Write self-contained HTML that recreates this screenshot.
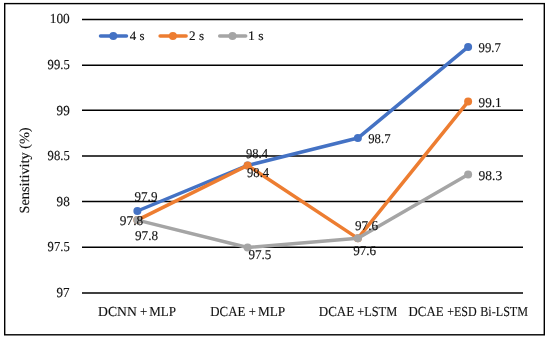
<!DOCTYPE html>
<html><head><meta charset="utf-8"><title>Sensitivity chart</title>
<style>
html,body{margin:0;padding:0;background:#fff;}
body{width:550px;height:340px;overflow:hidden;}
svg{display:block;}
text{font-family:"Liberation Serif",serif;fill:#111;stroke:#111;stroke-width:0.12px;font-size:14.0px;text-rendering:geometricPrecision;}
</style></head><body>
<svg width="550" height="340" viewBox="0 0 550 340">
<rect x="0" y="0" width="550" height="340" fill="#fff"/>
<rect x="4.7" y="3.6" width="539.6" height="331.2" fill="none" stroke="#000" stroke-width="1.4"/>

<line x1="82.0" y1="19.45" x2="523.0" y2="19.45" stroke="#000" stroke-width="1.38"/>
<line x1="82.0" y1="65.30" x2="523.0" y2="65.30" stroke="#000" stroke-width="1.38"/>
<line x1="82.0" y1="110.30" x2="523.0" y2="110.30" stroke="#000" stroke-width="1.38"/>
<line x1="82.0" y1="156.00" x2="523.0" y2="156.00" stroke="#000" stroke-width="1.38"/>
<line x1="82.0" y1="201.55" x2="523.0" y2="201.55" stroke="#000" stroke-width="1.38"/>
<line x1="82.0" y1="247.30" x2="523.0" y2="247.30" stroke="#000" stroke-width="1.38"/>
<line x1="82.0" y1="293.00" x2="523.0" y2="293.00" stroke="#000" stroke-width="1.38"/>
<text x="49.73" y="23.45" style="font-size:13.8px" textLength="20.03" lengthAdjust="spacingAndGlyphs">100</text>
<text x="47.59" y="69.03" style="font-size:13.8px" textLength="22.15" lengthAdjust="spacingAndGlyphs">99.5</text>
<text x="56.58" y="114.62" style="font-size:13.8px" textLength="13.21" lengthAdjust="spacingAndGlyphs">99</text>
<text x="47.59" y="160.20" style="font-size:13.8px" textLength="22.15" lengthAdjust="spacingAndGlyphs">98.5</text>
<text x="56.58" y="205.78" style="font-size:13.8px" textLength="13.17" lengthAdjust="spacingAndGlyphs">98</text>
<text x="47.59" y="251.37" style="font-size:13.8px" textLength="22.15" lengthAdjust="spacingAndGlyphs">97.5</text>
<text x="56.58" y="296.95" style="font-size:13.8px" textLength="13.04" lengthAdjust="spacingAndGlyphs">97</text>
<text transform="translate(29.2,212.6) rotate(-90)" x="-0.85" y="0" textLength="86.07" lengthAdjust="spacingAndGlyphs">Sensitivity (%)</text>
<text y="316.20" style="font-size:13.8px"><tspan x="98.11" textLength="38.70" lengthAdjust="spacingAndGlyphs">DCNN</tspan> <tspan x="140.06" textLength="7.26" lengthAdjust="spacingAndGlyphs">+</tspan> <tspan x="149.23" textLength="26.79" lengthAdjust="spacingAndGlyphs">MLP</tspan></text>
<text y="316.20" style="font-size:13.8px"><tspan x="210.33" textLength="35.00" lengthAdjust="spacingAndGlyphs">DCAE</tspan> <tspan x="248.87" textLength="7.14" lengthAdjust="spacingAndGlyphs">+</tspan> <tspan x="257.92" textLength="27.31" lengthAdjust="spacingAndGlyphs">MLP</tspan></text>
<text y="316.20" style="font-size:13.8px"><tspan x="318.83" textLength="35.31" lengthAdjust="spacingAndGlyphs">DCAE</tspan> <tspan x="357.19" textLength="39.97" lengthAdjust="spacingAndGlyphs">+LSTM</tspan></text>
<text y="316.20" style="font-size:13.8px"><tspan x="408.53" textLength="35.00" lengthAdjust="spacingAndGlyphs">DCAE</tspan> <tspan x="447.20" textLength="29.57" lengthAdjust="spacingAndGlyphs">+ESD</tspan> <tspan x="480.25" textLength="47.80" lengthAdjust="spacingAndGlyphs">Bi-LSTM</tspan></text>
<polyline points="137.38,211.00 247.62,165.42 357.88,138.07 468.12,46.90" fill="none" stroke="#4472C4" stroke-width="3.5" stroke-linejoin="round" stroke-linecap="round"/>
<circle cx="137.38" cy="211.00" r="4.0" fill="#4472C4"/>
<circle cx="247.62" cy="165.42" r="4.0" fill="#4472C4"/>
<circle cx="357.88" cy="138.07" r="4.0" fill="#4472C4"/>
<circle cx="468.12" cy="46.90" r="4.0" fill="#4472C4"/>
<polyline points="137.38,220.12 247.62,165.42 357.88,238.35 468.12,101.60" fill="none" stroke="#ED7D31" stroke-width="3.5" stroke-linejoin="round" stroke-linecap="round"/>
<circle cx="137.38" cy="220.12" r="4.0" fill="#ED7D31"/>
<circle cx="247.62" cy="165.42" r="4.0" fill="#ED7D31"/>
<circle cx="357.88" cy="238.35" r="4.0" fill="#ED7D31"/>
<circle cx="468.12" cy="101.60" r="4.0" fill="#ED7D31"/>
<polyline points="137.38,220.12 247.62,247.47 357.88,238.35 468.12,174.53" fill="none" stroke="#A5A5A5" stroke-width="3.5" stroke-linejoin="round" stroke-linecap="round"/>
<circle cx="137.38" cy="220.12" r="4.0" fill="#A5A5A5"/>
<circle cx="247.62" cy="247.47" r="4.0" fill="#A5A5A5"/>
<circle cx="357.88" cy="238.35" r="4.0" fill="#A5A5A5"/>
<circle cx="468.12" cy="174.53" r="4.0" fill="#A5A5A5"/>
<line x1="100.5" y1="35.9" x2="126.5" y2="35.9" stroke="#4472C4" stroke-width="3.5" stroke-linecap="round"/>
<circle cx="113.3" cy="35.9" r="4.0" fill="#4472C4"/>
<text x="129.75" y="39.80" style="font-size:13.0px" textLength="14.71" lengthAdjust="spacingAndGlyphs">4 s</text>
<line x1="160.1" y1="35.9" x2="186.1" y2="35.9" stroke="#ED7D31" stroke-width="3.5" stroke-linecap="round"/>
<circle cx="172.9" cy="35.9" r="4.0" fill="#ED7D31"/>
<text x="189.03" y="39.80" style="font-size:13.0px" textLength="15.05" lengthAdjust="spacingAndGlyphs">2 s</text>
<line x1="219.7" y1="35.9" x2="245.7" y2="35.9" stroke="#A5A5A5" stroke-width="3.5" stroke-linecap="round"/>
<circle cx="232.5" cy="35.9" r="4.0" fill="#A5A5A5"/>
<text x="247.99" y="39.80" style="font-size:13.0px" textLength="15.70" lengthAdjust="spacingAndGlyphs">1 s</text>
<text x="134.53" y="201.00" style="font-size:13.5px" textLength="22.91" lengthAdjust="spacingAndGlyphs">97.9</text>
<text x="119.72" y="224.90" style="font-size:13.5px" textLength="23.49" lengthAdjust="spacingAndGlyphs">97.8</text>
<text x="134.93" y="240.20" style="font-size:13.5px" textLength="23.18" lengthAdjust="spacingAndGlyphs">97.8</text>
<text x="245.95" y="157.70" style="font-size:13.5px" textLength="22.05" lengthAdjust="spacingAndGlyphs">98.4</text>
<text x="247.04" y="177.20" style="font-size:13.5px" textLength="22.15" lengthAdjust="spacingAndGlyphs">98.4</text>
<text x="248.53" y="259.40" style="font-size:13.5px" textLength="22.88" lengthAdjust="spacingAndGlyphs">97.5</text>
<text x="368.24" y="143.30" style="font-size:13.5px" textLength="22.32" lengthAdjust="spacingAndGlyphs">98.7</text>
<text x="355.03" y="230.10" style="font-size:13.5px" textLength="23.06" lengthAdjust="spacingAndGlyphs">97.6</text>
<text x="353.13" y="254.70" style="font-size:13.5px" textLength="23.06" lengthAdjust="spacingAndGlyphs">97.6</text>
<text x="478.54" y="51.90" style="font-size:13.5px" textLength="22.32" lengthAdjust="spacingAndGlyphs">99.7</text>
<text x="478.53" y="106.90" style="font-size:13.5px" textLength="23.17" lengthAdjust="spacingAndGlyphs">99.1</text>
<text x="478.52" y="179.50" style="font-size:13.5px" textLength="23.71" lengthAdjust="spacingAndGlyphs">98.3</text>
</svg></body></html>
